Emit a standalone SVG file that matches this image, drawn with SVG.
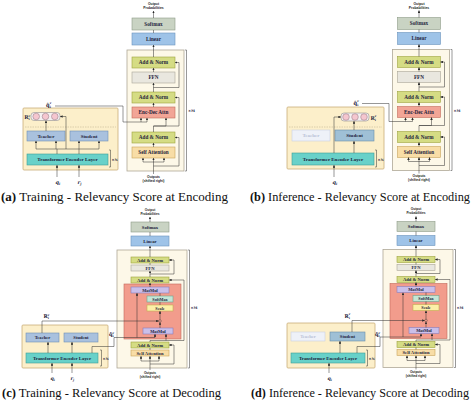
<svg xmlns="http://www.w3.org/2000/svg" width="474" height="400" viewBox="0 0 474 400">
<defs>
<marker id="ah" viewBox="0 0 6 6" refX="5.6" refY="3" markerWidth="2.6" markerHeight="2.6" markerUnits="userSpaceOnUse" orient="auto"><path d="M0,0 L6,3 L0,6 z" fill="#2a2a2a"/></marker>
<style>
.t{font-family:"Liberation Serif","DejaVu Serif",serif;font-weight:bold;fill:#1e1e3c;text-anchor:middle}
.s{font-family:"Liberation Sans","DejaVu Sans",sans-serif;font-weight:bold;fill:#222;text-anchor:middle}
.m{font-family:"DejaVu Serif","Liberation Serif",serif;font-weight:bold;fill:#1e1e3c}
.cap{font-family:"Liberation Serif","DejaVu Serif",serif;font-size:11.5px;fill:#111}
rect{stroke-width:0.6}
.softmax{fill:#c9d3c3;stroke:#8e9c88}
.linear{fill:#9ec3e8;stroke:#6b93bd}
.an{fill:#d5dc84;stroke:#9ea43f}
.ffn{fill:#e9e7df;stroke:#aaa698}
.ed{fill:#f2a596;stroke:#c46c5c}
.sa{fill:#f8dda6;stroke:#c9a45c}
.outer{fill:#fdf8e8;stroke:#aea797;stroke-width:0.8}
.enc{fill:#fcefca;stroke:#c9ad78;stroke-width:0.8}
.ts{fill:#a9c1de;stroke:#6f8fb4}
.st2{fill:#9fc0d6;stroke:#6a8ca8}
.fade{fill:#eef1f8;stroke:#c9d0e0}
.el{fill:#68d1c9;stroke:#3c9e96}
.holder{fill:#f4f0f2;stroke:#7f7a80;stroke-width:0.5}
.circ{fill:#f5c6cf;stroke:#8f7580;stroke-width:0.5}
.salmon{fill:#f29c8c;stroke:#c2685a}
.mm{fill:#cabfea;stroke:#8a7cba}
.smx{fill:#c3e6d6;stroke:#6fa58e}
.scale{fill:#fcefa8;stroke:#c4b050}
.ln{fill:none;stroke:#2f2f2f;stroke-width:0.5}
.ar{marker-end:url(#ah)}
.dash{fill:none;stroke:#b8a88a;stroke-width:0.5;stroke-dasharray:1.5 1}
.br{fill:none;stroke:#333;stroke-width:0.5}
</style>
</defs>
<rect width="474" height="400" fill="#fff"/>

<!-- ================= PANEL A ================= -->
<g id="a-decoder-box"><rect class="outer" x="127" y="50" width="57" height="121"/></g>
<g id="a-encoder-box"><rect class="enc" x="23" y="108" width="95" height="62" rx="1"/></g>
<g id="a-decoder-nodes">
<g id="a-softmax"><rect class="softmax" x="132" y="18" width="43" height="12"/><text class="t" x="153.5" y="25.8" font-size="5.2">Softmax</text></g>
<g id="a-linear"><rect class="linear" x="132" y="33" width="43" height="12"/><text class="t" x="153.5" y="40.8" font-size="5.2">Linear</text></g>
<g id="a-addnorm1"><rect class="an" x="132" y="57" width="43" height="11"/><text class="t" x="153.5" y="64.3" font-size="5.2">Add &amp; Norm</text></g>
<g id="a-ffn"><rect class="ffn" x="132" y="72" width="43" height="11"/><text class="t" x="153.5" y="79.3" font-size="5.2">FFN</text></g>
<g id="a-addnorm2"><rect class="an" x="132" y="92" width="43" height="11"/><text class="t" x="153.5" y="99.3" font-size="5.2">Add &amp; Norm</text></g>
<g id="a-encdec"><rect class="ed" x="132" y="107" width="43" height="11"/><text class="t" x="153.5" y="114.3" font-size="5.2">Enc-Dec Attn</text></g>
<g id="a-addnorm3"><rect class="an" x="132" y="132" width="43" height="11"/><text class="t" x="153.5" y="139.3" font-size="5.2">Add &amp; Norm</text></g>
<g id="a-selfattn"><rect class="sa" x="132" y="147" width="43" height="11"/><text class="t" x="153.5" y="154.3" font-size="5.2">Self Attention</text></g>
</g>
<g id="a-labels">
<text class="s" x="153.5" y="5" font-size="3.4">Output</text>
<text class="s" x="153.5" y="9.3" font-size="3.4">Probabilities</text>
<text class="s" x="153.5" y="177.5" font-size="3.4">Outputs</text>
<text class="s" x="153.5" y="181.8" font-size="3.4">(shifted right)</text>
<path class="br" d="M185,50 H186.5 V171 H185"/>
<text class="m" x="188" y="112" font-size="3.6">×M</text>
</g>
<g id="a-encoder-nodes">
<line class="dash" x1="25" y1="127" x2="116" y2="127"/>
<g id="a-scores"><rect class="holder" x="31" y="112.5" width="29" height="8" rx="3"/><circle class="circ" cx="36.2" cy="116.5" r="3.3"/><circle class="circ" cx="45.5" cy="116.5" r="3.3"/><circle class="circ" cx="54.8" cy="116.5" r="3.3"/></g>
<g id="a-teacher"><rect class="ts" x="27" y="131" width="38" height="10"/><text class="t" x="46" y="137.8" font-size="5">Teacher</text></g>
<g id="a-student"><rect class="ts" x="70" y="131" width="38" height="10"/><text class="t" x="89" y="137.8" font-size="5">Student</text></g>
<g id="a-enclayer"><rect class="el" x="27" y="154" width="81" height="11"/><text class="t" x="67.5" y="161.3" font-size="5">Transformer Encoder Layer</text></g>
<path class="br" d="M109,150 H110.5 V167 H109"/>
<text class="m" x="111.5" y="161" font-size="3.6">×N</text>
<text class="m" x="24.3" y="118.8" font-size="5.2">R<tspan font-size="3" dy="-2.2">r</tspan><tspan font-size="3" dx="-1.6" dy="3.6">i</tspan></text>
<text class="m" x="46" y="106.5" font-size="5.2">q̂<tspan font-size="3" dy="-2.2">r</tspan><tspan font-size="3" dx="-1.6" dy="3.6">i</tspan></text>
<text class="m" x="55.5" y="184" font-size="5" font-style="italic">q<tspan font-size="3.2" dy="1.2">i</tspan></text>
<text class="m" x="77.5" y="184" font-size="5" font-style="italic">r<tspan font-size="3.2" dy="1.2">j</tspan></text>
</g>

<!-- ================= PANEL B ================= -->
<g id="b-decoder-box"><rect class="outer" x="392.5" y="49.5" width="57" height="121"/></g>
<g id="b-encoder-box"><rect class="enc" x="287" y="107" width="97" height="62" rx="1"/></g>
<g id="b-decoder-nodes" transform="translate(265.5,-0.5)">
<g id="b-softmax"><rect class="softmax" x="132" y="18" width="43" height="12"/><text class="t" x="153.5" y="25.8" font-size="5.2">Softmax</text></g>
<g id="b-linear"><rect class="linear" x="132" y="33" width="43" height="12"/><text class="t" x="153.5" y="40.8" font-size="5.2">Linear</text></g>
<g id="b-addnorm1"><rect class="an" x="132" y="57" width="43" height="11"/><text class="t" x="153.5" y="64.3" font-size="5.2">Add &amp; Norm</text></g>
<g id="b-ffn"><rect class="ffn" x="132" y="72" width="43" height="11"/><text class="t" x="153.5" y="79.3" font-size="5.2">FFN</text></g>
<g id="b-addnorm2"><rect class="an" x="132" y="92" width="43" height="11"/><text class="t" x="153.5" y="99.3" font-size="5.2">Add &amp; Norm</text></g>
<g id="b-encdec"><rect class="ed" x="132" y="107" width="43" height="11"/><text class="t" x="153.5" y="114.3" font-size="5.2">Enc-Dec Attn</text></g>
<g id="b-addnorm3"><rect class="an" x="132" y="132" width="43" height="11"/><text class="t" x="153.5" y="139.3" font-size="5.2">Add &amp; Norm</text></g>
<g id="b-selfattn"><rect class="sa" x="132" y="147" width="43" height="11"/><text class="t" x="153.5" y="154.3" font-size="5.2">Self Attention</text></g>
<text class="s" x="153.5" y="5" font-size="3.4">Output</text>
<text class="s" x="153.5" y="9.3" font-size="3.4">Probabilities</text>
<text class="s" x="153.5" y="177.5" font-size="3.4">Outputs</text>
<text class="s" x="153.5" y="181.8" font-size="3.4">(shifted right)</text>
<path class="br" d="M185,50 H186.5 V171 H185"/>
<text class="m" x="188" y="112" font-size="3.6">×M</text>
</g>
<g id="b-encoder-nodes">
<line class="dash" x1="289" y1="127" x2="382" y2="127"/>
<g id="b-scores"><rect class="holder" x="341" y="113" width="28" height="8" rx="3"/><circle class="circ" cx="346" cy="117" r="3.3"/><circle class="circ" cx="355" cy="117" r="3.3"/><circle class="circ" cx="364" cy="117" r="3.3"/></g>
<g id="b-teacher"><rect class="fade" x="292" y="130" width="38" height="11"/><text class="t" x="311" y="137.3" font-size="5" style="fill:#b9c1d6">Teacher</text></g>
<g id="b-student"><rect class="st2" x="335" y="130" width="39" height="11"/><text class="t" x="354.5" y="137.3" font-size="5">Student</text></g>
<g id="b-enclayer"><rect class="el" x="292" y="153" width="82" height="12"/><text class="t" x="333" y="160.8" font-size="5">Transformer Encoder Layer</text></g>
<path class="br" d="M375,150 H376.5 V167 H375"/>
<text class="m" x="377.5" y="161" font-size="3.6">×N</text>
<text class="m" x="370.5" y="119.5" font-size="5.2">R<tspan font-size="3" dy="-2.2">r</tspan><tspan font-size="3" dx="-1.6" dy="3.6">i</tspan></text>
<text class="m" x="353.5" y="104.5" font-size="5.2">q̂<tspan font-size="3" dy="-2.2">r</tspan><tspan font-size="3" dx="-1.6" dy="3.6">i</tspan></text>
<text class="m" x="332.5" y="184" font-size="5" font-style="italic">q<tspan font-size="3.2" dy="1.2">i</tspan></text>
</g>

<!-- ================= PANEL C ================= -->
<g id="c-decoder-box"><rect class="outer" x="117" y="250" width="70" height="118"/></g>
<g id="c-encoder-box"><rect class="enc" x="22" y="325" width="86" height="43" rx="1"/></g>
<g id="c-decoder-nodes">
<g id="c-softmax"><rect class="softmax" x="131" y="222" width="38" height="10"/><text class="t" x="150" y="228.6" font-size="4.6">Softmax</text></g>
<g id="c-linear"><rect class="linear" x="131" y="236" width="38" height="10"/><text class="t" x="150" y="242.6" font-size="4.6">Linear</text></g>
<g id="c-addnorm1"><rect class="an" x="131" y="257" width="38" height="6"/><text class="t" x="150" y="261.6" font-size="4.6">Add &amp; Norm</text></g>
<g id="c-ffn"><rect class="ffn" x="131" y="265" width="38" height="6"/><text class="t" x="150" y="269.6" font-size="4.6">FFN</text></g>
<g id="c-addnorm2"><rect class="an" x="131" y="277" width="38" height="6"/><text class="t" x="150" y="281.6" font-size="4.6">Add &amp; Norm</text></g>
<g id="c-attn-block"><rect class="salmon" x="124" y="284" width="57" height="55"/></g>
<g id="c-matmul-top"><rect class="mm" x="131" y="287" width="38" height="6"/><text class="t" x="150" y="291.6" font-size="4.4">MatMul</text></g>
<g id="c-softmax-inner"><rect class="smx" x="147" y="296" width="26" height="6"/><text class="t" x="160" y="300.6" font-size="4.2">SoftMax</text></g>
<g id="c-scale"><rect class="scale" x="147" y="305" width="26" height="6"/><text class="t" x="160" y="309.6" font-size="4.2">Scale</text></g>
<g id="c-junction"><circle cx="160" cy="321" r="1.3" fill="#f29c8c" stroke="#2f2f2f" stroke-width="0.4"/></g>
<g id="c-matmul-bottom"><rect class="mm" x="143" y="328" width="30" height="6"/><text class="t" x="158" y="332.6" font-size="4.4">MatMul</text></g>
<g id="c-addnorm3"><rect class="an" x="131" y="342" width="38" height="6"/><text class="t" x="150" y="346.6" font-size="4.6">Add &amp; Norm</text></g>
<g id="c-selfattn"><rect class="sa" x="131" y="350" width="38" height="6"/><text class="t" x="150" y="354.6" font-size="4.6">Self Attention</text></g>
<text class="s" x="150" y="210.5" font-size="3.2">Output</text>
<text class="s" x="150" y="214.8" font-size="3.2">Probabilities</text>
<text class="s" x="150" y="373.5" font-size="3.2">Outputs</text>
<text class="s" x="150" y="377.8" font-size="3.2">(shifted right)</text>
<path class="br" d="M188,250 H189.5 V368 H188"/>
<text class="m" x="190.5" y="309" font-size="3.6">×M</text>
</g>
<g id="c-encoder-nodes">
<g id="c-teacher"><rect class="ts" x="26" y="333" width="33" height="9"/><text class="t" x="42.5" y="339.2" font-size="4.6">Teacher</text></g>
<g id="c-student"><rect class="ts" x="64" y="333" width="34" height="9"/><text class="t" x="81" y="339.2" font-size="4.6">Student</text></g>
<g id="c-enclayer"><rect class="el" x="26" y="353" width="72" height="10"/><text class="t" x="62" y="359.7" font-size="4.8">Transformer Encoder Layer</text></g>
<path class="br" d="M100,350 H101.5 V366 H100"/>
<text class="m" x="102.5" y="360" font-size="3.6">×N</text>
<text class="m" x="43.5" y="318" font-size="5">R<tspan font-size="3" dy="-2.2">r</tspan><tspan font-size="3" dx="-1.6" dy="3.6">i</tspan></text>
<text class="m" x="109" y="336" font-size="5">q̂<tspan font-size="3" dy="-2.2">r</tspan><tspan font-size="3" dx="-1.6" dy="3.6">i</tspan></text>
<text class="m" x="50.5" y="380" font-size="4.8" font-style="italic">q<tspan font-size="3.1" dy="1.2">i</tspan></text>
<text class="m" x="70.5" y="380" font-size="4.8" font-style="italic">r<tspan font-size="3.1" dy="1.2">j</tspan></text>
</g>

<!-- ================= PANEL D ================= -->
<g id="d-decoder-box"><rect class="outer" x="383" y="249.5" width="70" height="118"/></g>
<g id="d-encoder-box"><rect class="enc" x="287" y="323" width="88" height="45" rx="1"/></g>
<g id="d-decoder-nodes" transform="translate(266,-0.5)">
<g id="d-softmax"><rect class="softmax" x="131" y="222" width="38" height="10"/><text class="t" x="150" y="228.6" font-size="4.6">Softmax</text></g>
<g id="d-linear"><rect class="linear" x="131" y="236" width="38" height="10"/><text class="t" x="150" y="242.6" font-size="4.6">Linear</text></g>
<g id="d-addnorm1"><rect class="an" x="131" y="257" width="38" height="6"/><text class="t" x="150" y="261.6" font-size="4.6">Add &amp; Norm</text></g>
<g id="d-ffn"><rect class="ffn" x="131" y="265" width="38" height="6"/><text class="t" x="150" y="269.6" font-size="4.6">FFN</text></g>
<g id="d-addnorm2"><rect class="an" x="131" y="277" width="38" height="6"/><text class="t" x="150" y="281.6" font-size="4.6">Add &amp; Norm</text></g>
<g id="d-attn-block"><rect class="salmon" x="124" y="284" width="57" height="55"/></g>
<g id="d-matmul-top"><rect class="mm" x="131" y="287" width="38" height="6"/><text class="t" x="150" y="291.6" font-size="4.4">MatMul</text></g>
<g id="d-softmax-inner"><rect class="smx" x="147" y="296" width="26" height="6"/><text class="t" x="160" y="300.6" font-size="4.2">SoftMax</text></g>
<g id="d-scale"><rect class="scale" x="147" y="305" width="26" height="6"/><text class="t" x="160" y="309.6" font-size="4.2">Scale</text></g>
<g id="d-junction"><circle cx="160" cy="321" r="1.3" fill="#f29c8c" stroke="#2f2f2f" stroke-width="0.4"/></g>
<g id="d-matmul-bottom"><rect class="mm" x="143" y="328" width="30" height="6"/><text class="t" x="158" y="332.6" font-size="4.4">MatMul</text></g>
<g id="d-addnorm3"><rect class="an" x="131" y="342" width="38" height="6"/><text class="t" x="150" y="346.6" font-size="4.6">Add &amp; Norm</text></g>
<g id="d-selfattn"><rect class="sa" x="131" y="350" width="38" height="6"/><text class="t" x="150" y="354.6" font-size="4.6">Self Attention</text></g>
<text class="s" x="150" y="210.5" font-size="3.2">Output</text>
<text class="s" x="150" y="214.8" font-size="3.2">Probabilities</text>
<text class="s" x="150" y="373.5" font-size="3.2">Outputs</text>
<text class="s" x="150" y="377.8" font-size="3.2">(shifted right)</text>
<path class="br" d="M188,250 H189.5 V368 H188"/>
<text class="m" x="190.5" y="309" font-size="3.6">×M</text>
</g>
<g id="d-encoder-nodes">
<g id="d-teacher"><rect class="fade" x="291" y="332" width="34" height="9"/><text class="t" x="308" y="338.2" font-size="4.6" style="fill:#b9c1d6">Teacher</text></g>
<g id="d-student"><rect class="st2" x="330" y="332" width="35" height="9"/><text class="t" x="347.5" y="338.2" font-size="4.6">Student</text></g>
<g id="d-enclayer"><rect class="el" x="291" y="353" width="74" height="10"/><text class="t" x="328" y="359.7" font-size="4.8">Transformer Encoder Layer</text></g>
<path class="br" d="M366,350 H367.5 V366 H366"/>
<text class="m" x="368.5" y="360" font-size="3.6">×N</text>
<text class="m" x="344.5" y="317.5" font-size="5">R<tspan font-size="3" dy="-2.2">r</tspan><tspan font-size="3" dx="-1.6" dy="3.6">i</tspan></text>
<text class="m" x="375" y="336" font-size="5">q̂<tspan font-size="3" dy="-2.2">r</tspan><tspan font-size="3" dx="-1.6" dy="3.6">i</tspan></text>
<text class="m" x="327.5" y="380" font-size="4.8" font-style="italic">q<tspan font-size="3.1" dy="1.2">i</tspan></text>
</g>

<!-- ================= CONNECTORS ================= -->
<g id="connectors">
<path class="ln ar" d="M153.5,18 V11"/>
<path class="ln" d="M153.5,33 V30"/>
<path class="ln ar" d="M153.5,57 V45"/>
<path class="ln ar" d="M153.5,72 V68"/>
<path class="ln ar" d="M153.5,92 V83"/>
<path class="ln ar" d="M153.5,87.5 H179 V62.5 H175"/>
<path class="ln ar" d="M153.5,107 V103"/>
<path class="ln ar" d="M153.5,132 V126 H166 V118"/>
<path class="ln ar" d="M153.5,126 H179 V97.5 H175"/>
<path class="ln ar" d="M153.5,147 V143"/>
<path class="ln" d="M153.5,174 V162 M143,162 H164"/>
<path class="ln ar" d="M143,162 V158"/>
<path class="ln ar" d="M153.5,162 V158"/>
<path class="ln ar" d="M164,162 V158"/>
<path class="ln ar" d="M153.5,166 H179 V137.5 H175"/>
<path class="ln ar" d="M55,106 H123 V122 H147 V118"/>
<path class="ln ar" d="M141,122 V118"/>
<path class="ln ar" d="M46,131 V120.7"/>
<path class="ln" d="M57,154 V149 M79,154 V149 M36,149 H99"/>
<path class="ln ar" d="M36,149 V141"/>
<path class="ln ar" d="M56,149 V141"/>
<path class="ln ar" d="M79,149 V141"/>
<path class="ln ar" d="M99,149 V141"/>
<path class="ln ar" d="M66,149 V116.5 H60.2"/>
<path class="ln ar" d="M57,177 V165.2"/>
<path class="ln ar" d="M79,177 V165.2"/>
<path class="ln ar" d="M362,103.5 H389 V121.5 H412.5 V117.7"/>
<path class="ln ar" d="M405.5,121.5 V117.7"/>
<path class="ln ar" d="M334,177 V165.2"/>
<path class="ln ar" d="M334,153 V117 H340.8"/>
<path class="ln ar" d="M354,153 V141.2"/>
<path class="ln ar" d="M354,130 V121.2"/>
<path class="ln ar" d="M150,222 V217"/>
<path class="ln" d="M150,236 V232"/>
<path class="ln ar" d="M150,257 V246"/>
<path class="ln" d="M150,265 V263"/>
<path class="ln ar" d="M150,277 V271"/>
<path class="ln ar" d="M150,274 H174 V260 H169.2"/>
<path class="ln ar" d="M150,287 V283"/>
<path class="ln" d="M160,296 V293 M160,305 V302"/>
<path class="ln ar" d="M160,319.7 V311.2"/>
<path class="ln ar" d="M160,328 V322.4"/>
<path class="ln ar" d="M150,342 V340.5 H166 V334.2"/>
<path class="ln ar" d="M166,340.5 H184 V280 H169.2"/>
<path class="ln" d="M150,350 V348"/>
<path class="ln" d="M150,370 V361 M141,361 H159"/>
<path class="ln ar" d="M141,361 V356.2"/>
<path class="ln ar" d="M150,361 V356.2"/>
<path class="ln ar" d="M159,361 V356.2"/>
<path class="ln ar" d="M150,364 H174 V345 H169.2"/>
<path class="ln ar" d="M42,333 V321 H158.6"/>
<path class="ln ar" d="M92,353 V346.5 H114 V337.5 H155 V334.2"/>
<path class="ln ar" d="M137,337.5 V293.2"/>
<path class="ln ar" d="M48,353 V342.2"/>
<path class="ln ar" d="M72,353 V342.2"/>
<path class="ln ar" d="M52,373 V363.2"/>
<path class="ln ar" d="M72,373 V363.2"/>
<path class="ln ar" d="M352,332 V320.5 H424.6"/>
<path class="ln ar" d="M357,353 V346.5 H380 V337 H421 V333.7"/>
<path class="ln ar" d="M403,337 V292.7"/>
<path class="ln ar" d="M340,353 V341.2"/>
<path class="ln ar" d="M329,373 V363.2"/>
</g>
<g id="connectors-b" transform="translate(265.5,-0.5)">
<path class="ln ar" d="M153.5,18 V11"/>
<path class="ln" d="M153.5,33 V30"/>
<path class="ln ar" d="M153.5,57 V45"/>
<path class="ln ar" d="M153.5,72 V68"/>
<path class="ln ar" d="M153.5,92 V83"/>
<path class="ln ar" d="M153.5,87.5 H179 V62.5 H175"/>
<path class="ln ar" d="M153.5,107 V103"/>
<path class="ln ar" d="M153.5,132 V126 H166 V118"/>
<path class="ln ar" d="M153.5,126 H179 V97.5 H175"/>
<path class="ln ar" d="M153.5,147 V143"/>
<path class="ln" d="M153.5,174 V162 M143,162 H164"/>
<path class="ln ar" d="M143,162 V158"/>
<path class="ln ar" d="M153.5,162 V158"/>
<path class="ln ar" d="M164,162 V158"/>
<path class="ln ar" d="M153.5,166 H179 V137.5 H175"/>
</g>
<g id="connectors-d" transform="translate(266,-0.5)">
<path class="ln ar" d="M150,222 V217"/>
<path class="ln" d="M150,236 V232"/>
<path class="ln ar" d="M150,257 V246"/>
<path class="ln" d="M150,265 V263"/>
<path class="ln ar" d="M150,277 V271"/>
<path class="ln ar" d="M150,274 H174 V260 H169.2"/>
<path class="ln ar" d="M150,287 V283"/>
<path class="ln" d="M160,296 V293 M160,305 V302"/>
<path class="ln ar" d="M160,319.7 V311.2"/>
<path class="ln ar" d="M160,328 V322.4"/>
<path class="ln ar" d="M150,342 V340.5 H166 V334.2"/>
<path class="ln ar" d="M166,340.5 H184 V280 H169.2"/>
<path class="ln" d="M150,350 V348"/>
<path class="ln" d="M150,370 V361 M141,361 H159"/>
<path class="ln ar" d="M141,361 V356.2"/>
<path class="ln ar" d="M150,361 V356.2"/>
<path class="ln ar" d="M159,361 V356.2"/>
<path class="ln ar" d="M150,364 H174 V345 H169.2"/>
</g>

<!-- ================= CAPTIONS ================= -->
<g id="captions">
<text class="cap" font-family="Liberation Serif, serif" font-size="11.5" x="1" y="201" textLength="227" lengthAdjust="spacingAndGlyphs"><tspan font-weight="bold">(a)</tspan> Training - Relevancy Score at Encoding</text>
<text class="cap" font-family="Liberation Serif, serif" font-size="11.5" x="250" y="201" textLength="220" lengthAdjust="spacingAndGlyphs"><tspan font-weight="bold">(b)</tspan> Inference - Relevancy Score at Encoding</text>
<text class="cap" font-family="Liberation Serif, serif" font-size="11.5" x="2" y="397" textLength="219" lengthAdjust="spacingAndGlyphs"><tspan font-weight="bold">(c)</tspan> Training - Relevancy Score at Decoding</text>
<text class="cap" font-family="Liberation Serif, serif" font-size="11.5" x="251" y="397" textLength="218" lengthAdjust="spacingAndGlyphs"><tspan font-weight="bold">(d)</tspan> Inference - Relevancy Score at Decoding</text>
</g>
</svg>
